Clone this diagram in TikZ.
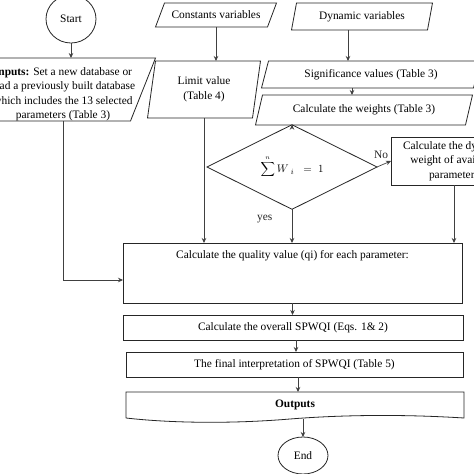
\documentclass[tikz,border=0pt]{standalone}
\usepackage{fontspec}
\setmainfont{Liberation Serif}
\usetikzlibrary{shapes.geometric,arrows.meta,calc}
\tikzset{
  base/.style={inner sep=0pt, outer sep=0pt, font=\fontsize{11.4}{14.5}\selectfont, align=center},
  plainbox/.style={base, rectangle},
  boxdraw/.style={draw=black!85, line width=1pt},
  paradraw/.style={draw=black!85, line width=0.8pt},
  conn/.style={draw=black!65, line width=0.7pt, -{Stealth[length=5pt,width=4.5pt]}, black!75},
  lbl/.style={font=\fontsize{11.4}{13}\selectfont, text=black!85}
}
\newcommand\drawpara[2]{%
  \draw[paradraw] ([xshift=#2/2]#1.north west) -- ([xshift=#2/2]#1.north east)
    -- ([xshift=-#2/2]#1.south east) -- ([xshift=-#2/2]#1.south west) -- cycle;}
\begin{document}
\begin{tikzpicture}[x=1pt,y=-1pt]
\useasboundingbox (0,0) rectangle (474,474);
\fill[white] (0,0) rectangle (474,474);

% start
\node[base, ellipse, draw=black!85, line width=0.8pt, minimum width=50pt, minimum height=48pt] (start) at (71,19) {Start};

% inputs
\node[plainbox, minimum width=160pt, minimum height=57pt] (inputs) at (63,89.5)
  {\rule{0pt}{17pt}\textbf{Inputs:} Set a new database or\\ load a previously built database\\ which includes the 13 selected\\ parameters (Table 3)};
\drawpara{inputs}{25pt}

% constants
\node[plainbox, minimum width=112pt, minimum height=24pt] (const) at (216,15) {Constants variables};
\drawpara{const}{9pt}

% limit
\node[plainbox, minimum width=105pt, minimum height=57pt] (limit) at (204,89.5) {Limit value\\(Table 4)};
\drawpara{limit}{8pt}

% dynamic
\node[plainbox, minimum width=136pt, minimum height=27pt] (dyn) at (362,16.5) {Dynamic variables};
\drawpara{dyn}{5pt}

% significance
\node[plainbox, minimum width=212pt, minimum height=27pt] (sig) at (371,74.5) {Significance values (Table 3)};
\drawpara{sig}{7pt}

% weights
\node[plainbox, minimum width=210pt, minimum height=30pt] (weights) at (364,110) {Calculate the weights (Table 3)};
\drawpara{weights}{7pt}

% decision
\node[base, diamond, draw=black!85, line width=0.8pt, minimum width=170pt, minimum height=64pt] (dia) at (292,167)
  {$\displaystyle\sum\limits^{\scriptscriptstyle n} W_{\;\,i}\;\;=\;1$};

% right box
\node[plainbox, draw=black!85, line width=0.8pt, minimum width=126pt, minimum height=48pt] (rbox) at (454,161)
  {Calculate the dynamic\\weight of available\\parameters};

% quality
\node[plainbox, boxdraw, minimum width=339pt, minimum height=60pt,
  label={[base, anchor=north, yshift=-7pt]north:Calculate the quality value (qi) for each parameter:}] (quality) at (292.5,273) {};

% spwqi
\node[plainbox, boxdraw, minimum width=340pt, minimum height=25pt] (spwqi) at (293,327.5) {Calculate the overall SPWQI (Eqs. 1\& 2)};

% final
\node[plainbox, boxdraw, minimum width=337pt, minimum height=25pt] (final) at (294.5,364.5) {The final interpretation of SPWQI (Table 5)};

% outputs (document shape)
\node[plainbox, minimum width=338pt, minimum height=26pt] (outputs) at (295,405) {\textbf{Outputs}};
\draw[paradraw] (outputs.south west) -- (outputs.north west) -- (outputs.north east) -- (outputs.south east)
  .. controls (400,414) and (340,415) .. (290,419)
  .. controls (230,424) and (170,423) .. (outputs.south west);

% end
\node[base, ellipse, draw=black!85, line width=0.8pt, minimum width=50pt, minimum height=37pt] (end) at (303,455.5) {End};

% connectors
\draw[conn] (start.south) -- (start.south |- inputs.north);
\draw[conn] (const.south) -- (const.south |- limit.north);
\draw[conn] ([xshift=-14pt]dyn.south) -- ([xshift=-14pt]dyn.south |- sig.north);
\draw[conn] ([xshift=-19pt]sig.south) -- ([xshift=-19pt]sig.south |- weights.north);
\draw[conn] (dia.north |- weights.south) -- (dia.north);
\draw[conn] (dia.east) -- node[lbl, pos=0.3, above=3pt] {No} (rbox.west);
\draw[conn] (dia.south) -- node[lbl, pos=0.3, left=16pt] {yes} (dia.south |- quality.north);
\draw[conn] (rbox.south) -- (rbox.south |- quality.north);
\draw[conn] (limit.south) -- (limit.south |- quality.north);
\draw[conn] (inputs.south) |- ([yshift=-7pt]quality.west);
\draw[conn] (quality.south) -- (quality.south |- spwqi.north);
\draw[conn] ([xshift=3pt]spwqi.south) -- ([xshift=3pt]spwqi.south |- final.north);
\draw[conn] ([xshift=3.5pt]final.south) -- ([xshift=3.5pt]final.south |- outputs.north);
\draw[conn] ([xshift=8pt,yshift=-1pt]outputs.south) -- (end.north);
\end{tikzpicture}
\end{document}
